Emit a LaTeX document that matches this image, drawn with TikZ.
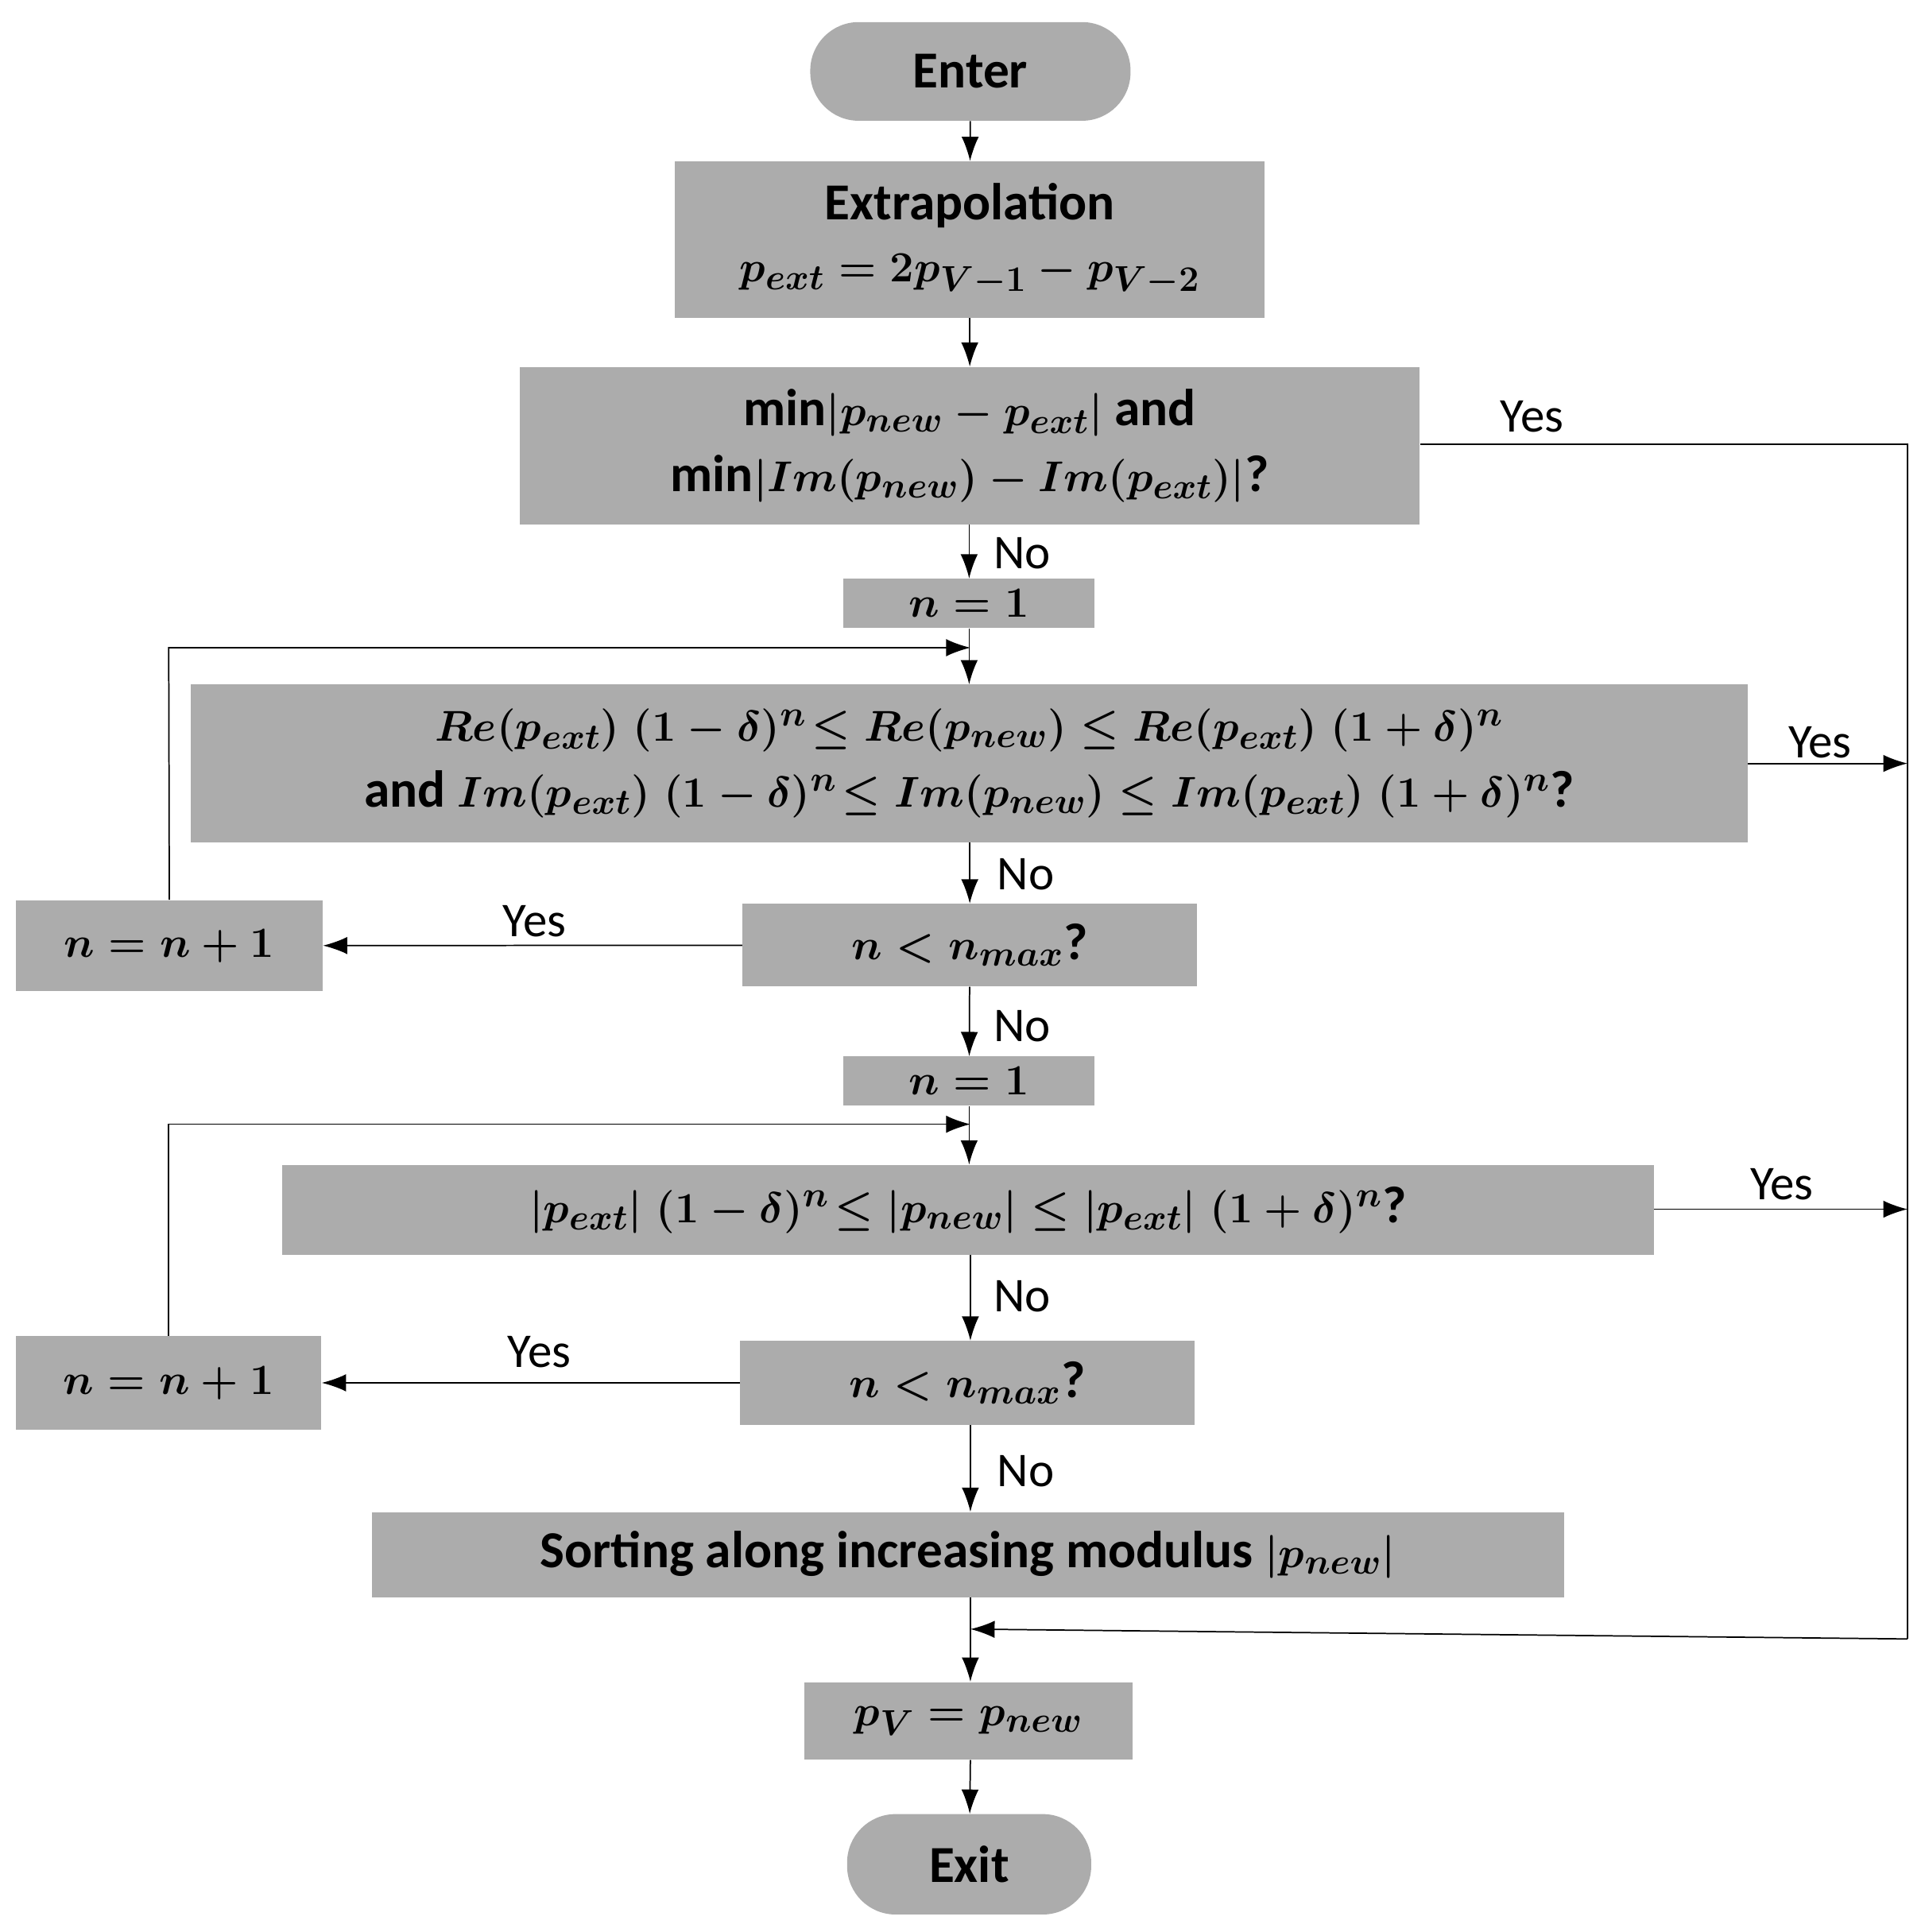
\documentclass[tikz,border=0pt]{standalone}
\usepackage{amsmath,bm}
\usepackage{fontspec}
\setmainfont{Carlito}
\usetikzlibrary{arrows.meta}
\begin{document}
\begin{tikzpicture}[x=0.25mm,y=-0.25mm,
 box/.style={fill=gray!65,inner sep=0,font=\fontsize{30}{38}\selectfont\bfseries\boldmath,align=center},
 txt/.style={inner sep=0,font=\fontsize{30}{38}\selectfont\bfseries\boldmath,align=center},
 lab/.style={font=\fontsize{28}{32}\selectfont,inner sep=2pt},
 ar/.style={-{Latex[length=14,width=10]},line width=0.8pt},
 ln/.style={line width=0.8pt}]
\useasboundingbox (0,0) rectangle (1563,1569);
\newcommand{\bx}[5]{\node[box,minimum width={(#3-#1)*0.7113pt},minimum height={(#4-#2)*0.7113pt}] (#5) at ({(#1+#3)/2},{(#2+#4)/2}) {};}
\bx{548}{131}{1027}{258}{ext}
\bx{422}{298}{1153}{426}{min}
\bx{685}{470}{889}{510}{na}
\bx{155}{556}{1419}{684}{re}
\bx{603}{734}{972}{801}{ca}
\bx{13}{731}{262}{805}{ia}
\bx{685}{858}{889}{898}{nb}
\bx{229}{946}{1343}{1019}{ab}
\bx{601}{1089}{970}{1157}{cb}
\bx{13}{1085}{261}{1161}{ib}
\bx{302}{1228}{1270}{1297}{so}
\bx{653}{1366}{920}{1429}{pv}
\node[box,rounded corners=28pt,minimum width=185pt,minimum height=57pt] (en) at (788,58) {Enter};
\node[box,rounded corners=28pt,minimum width=141pt,minimum height=58pt] (ex) at (787,1514) {Exit};
\node[txt] at (ext) {Extrapolation\\[-2pt] $p_{ext}=2p_{V-1}-p_{V-2}$};
\node[txt] at (min) {min$|p_{new}-p_{ext}|$ and\\ min$|Im(p_{new})-Im(p_{ext})|$?};
\node[txt] at (na) {$n=1$};
\node[txt] at (nb) {$n=1$};
\node[txt] at (re) {$Re(p_{ext})\;(1-\delta)^n\!\le Re(p_{new})\le Re(p_{ext})\;(1+\delta)^n$\\ and $Im(p_{ext})\;(1-\delta)^n\!\le Im(p_{new})\le Im(p_{ext})\;(1+\delta)^n$?};
\node[txt] at (ca) {$n<n_{max}$?};
\node[txt] at (cb) {$n<n_{max}$?};
\node[txt] at (ia) {$n=n+1$};
\node[txt] at (ib) {$n=n+1$};
\node[txt] at (ab) {$|p_{ext}|\;(1-\delta)^n\!\le |p_{new}|\le |p_{ext}|\;(1+\delta)^n$?};
\node[txt] at (so) {Sorting along increasing modulus $|p_{new}|$};
\node[txt] at (pv) {$p_V=p_{new}$};
\draw[ar] (en) -- (ext);
\draw[ar] (ext) -- (min);
\draw[ar] (min.south -| na) -- (na);
\draw[ar] (na) -- (re);
\draw[ar] (re.south -| ca) -- (ca);
\draw[ar] (ca) -- (nb);
\draw[ar] (nb) -- (ab.north -| nb);
\draw[ar] (ab.south -| 788,0) -- (cb.north -| 788,0);
\draw[ar] (cb.south -| 788,0) -- (so.north -| 788,0);
\draw[ar] (so.south -| 788,0) -- (pv.north -| 788,0);
\draw[ar] (pv.south -| 788,0) -- (ex);
\coordinate (la) at (788,526); \coordinate (lb) at (788,913);
\draw[ar] (ia.north) -- (137,526) -- (la);
\draw[ar] (ib.north) -- (137,913) -- (lb);
\draw[ar] (ca) -- (ia);
\draw[ar] (cb) -- (ib);
\coordinate (r1) at (1549,361); \coordinate (r2) at (1549,620); \coordinate (r3) at (1549,982); \coordinate (r4) at (1549,1331); \coordinate (m) at (788,1323);
\draw[ln] (min.east |- r1) -- (r1) -- (r4);
\draw[ar] (r4) -- (m);
\draw[ar] (re.east |- r2) -- (r2);
\draw[ar] (ab.east |- r3) -- (r3);
\node[lab] at (1244,338) {Yes};
\node[lab] at (1478,603) {Yes};
\node[lab] at (1447,962) {Yes};
\node[lab] at (434,748) {Yes};
\node[lab] at (438,1098) {Yes};
\node[lab] at (830,449) {No};
\node[lab] at (833,710) {No};
\node[lab] at (830,833) {No};
\node[lab] at (830,1053) {No};
\node[lab] at (833,1195) {No};
\end{tikzpicture}
\end{document}
